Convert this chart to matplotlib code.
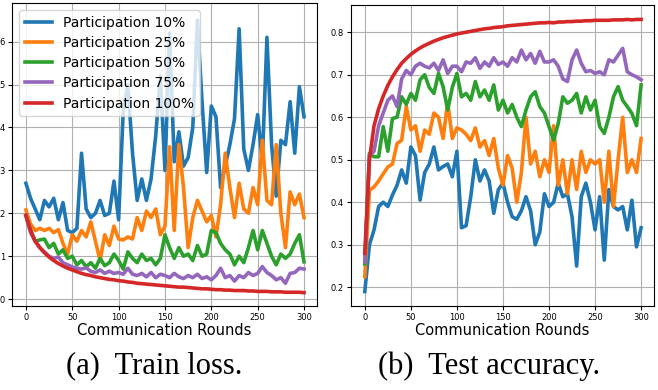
import numpy as np
import matplotlib
matplotlib.use("Agg")
import matplotlib.pyplot as plt

rounds = list(range(0, 301, 5))
labels = ["Participation 10%", "Participation 25%", "Participation 50%",
          "Participation 75%", "Participation 100%"]
colors = ["#1f77b4", "#ff7f0e", "#2ca02c", "#9467bd", "#d62728"]

loss_10 = [2.7, 2.35, 2.1, 1.85, 2.3, 2.15, 2.35, 1.85, 2.25, 1.6,
           1.55, 1.65, 3.4, 2.1, 1.9, 2.0, 2.3, 1.95, 2.0, 2.75,
           1.85, 4.4, 5.0, 3.4, 2.3, 2.8, 2.3, 2.8, 3.8, 5.2,
           3.0, 6.2, 3.2, 3.9, 3.1, 3.3, 4.0, 6.5, 4.6, 2.95,
           4.5, 4.25, 2.6, 3.1, 3.6, 4.2, 6.3, 3.5, 3.0, 3.6,
           4.3, 3.2, 6.1, 3.6, 2.4, 3.7, 3.6, 4.6, 3.4, 4.95,
           4.25]
loss_25 = [2.08, 1.75, 1.6, 1.65, 1.6, 1.65, 1.55, 1.62, 1.3, 1.05,
           1.5, 1.35, 1.6, 1.45, 1.8, 1.35, 0.9, 1.5, 1.25, 1.7,
           1.4, 1.38, 1.45, 1.4, 1.9, 1.6, 2.05, 1.9, 2.1, 1.5,
           1.7, 3.55, 1.6, 3.6, 2.6, 1.2, 1.9, 2.3, 2.05, 1.8,
           1.95, 1.45, 2.2, 3.4, 2.6, 1.9, 2.7, 2.1, 2.0, 2.6,
           2.2, 3.7, 2.3, 2.2, 3.6, 2.0, 1.2, 2.5, 2.2, 2.45,
           1.9]
loss_50 = [1.95, 1.6, 1.35, 1.38, 1.4, 1.2, 1.3, 1.05, 1.15, 0.95,
           1.0, 0.8, 0.9, 0.75, 0.85, 0.72, 0.95, 0.78, 0.85, 1.05,
           0.9, 0.7, 1.1, 0.95, 0.85, 1.05, 0.9, 0.95, 0.8, 0.95,
           1.5, 1.2, 0.95, 1.2, 1.0, 1.05, 0.9, 1.25, 1.0, 1.05,
           1.6, 1.55, 1.3, 1.15, 1.05, 0.8, 1.0, 0.85, 1.2, 1.6,
           1.15, 1.6, 1.3, 1.0, 0.8, 1.05, 0.95, 1.05, 1.3, 1.5,
           0.87]
loss_75 = [1.95, 1.55, 1.35, 1.2, 1.1, 1.0, 0.95, 0.98, 0.85, 0.8,
           0.75, 0.72, 0.7, 0.73, 0.65, 0.62, 0.68, 0.6, 0.65, 0.6,
           0.62, 0.58, 0.72, 0.58, 0.55, 0.6, 0.52, 0.62, 0.5, 0.58,
           0.55, 0.5, 0.6, 0.52, 0.48, 0.55, 0.5, 0.58, 0.48, 0.52,
           0.45, 0.55, 0.72, 0.5, 0.55, 0.42, 0.55, 0.5, 0.62, 0.55,
           0.6, 0.76, 0.62, 0.55, 0.45, 0.5, 0.37, 0.6, 0.62, 0.72,
           0.7]
loss_100 = [1.95, 1.6, 1.35, 1.2, 1.08, 0.98, 0.9, 0.83, 0.77, 0.72,
            0.68, 0.64, 0.6, 0.57, 0.55, 0.52, 0.5, 0.48, 0.46, 0.45,
            0.43, 0.42, 0.4, 0.39, 0.37, 0.36, 0.35, 0.34, 0.33, 0.32,
            0.31, 0.3, 0.29, 0.28, 0.28, 0.27, 0.26, 0.25, 0.24, 0.24,
            0.23, 0.22, 0.22, 0.21, 0.21, 0.2, 0.2, 0.2, 0.19, 0.19,
            0.18, 0.18, 0.18, 0.17, 0.17, 0.17, 0.16, 0.16, 0.16, 0.16,
            0.15]

acc_10 = [0.19, 0.3, 0.335, 0.39, 0.4, 0.39, 0.417, 0.44, 0.476, 0.445,
          0.53, 0.51, 0.405, 0.47, 0.49, 0.53, 0.476, 0.484, 0.49, 0.46,
          0.52, 0.34, 0.345, 0.413, 0.5, 0.45, 0.476, 0.45, 0.374, 0.43,
          0.445, 0.4, 0.366, 0.36, 0.38, 0.413, 0.38, 0.3, 0.33, 0.42,
          0.39, 0.4, 0.445, 0.413, 0.42, 0.366, 0.25, 0.413, 0.445, 0.4,
          0.335, 0.413, 0.264, 0.43, 0.39, 0.382, 0.39, 0.335, 0.405, 0.295,
          0.34]
acc_25 = [0.225, 0.428, 0.436, 0.45, 0.467, 0.483, 0.49, 0.538, 0.546, 0.625,
          0.57, 0.58, 0.52, 0.57, 0.56, 0.61, 0.6, 0.55, 0.635, 0.55,
          0.575, 0.57, 0.56, 0.545, 0.575, 0.53, 0.545, 0.51, 0.55, 0.48,
          0.44, 0.51, 0.48, 0.4, 0.47, 0.6, 0.49, 0.52, 0.46, 0.5,
          0.47, 0.58, 0.44, 0.5, 0.42, 0.5, 0.43, 0.52, 0.47, 0.5,
          0.49, 0.5, 0.4, 0.52, 0.39, 0.5, 0.6, 0.47, 0.5, 0.47,
          0.55]
acc_50 = [0.255, 0.515, 0.507, 0.507, 0.578, 0.52, 0.597, 0.6, 0.648, 0.63,
          0.656, 0.64, 0.688, 0.7, 0.67, 0.656, 0.703, 0.672, 0.617, 0.67,
          0.703, 0.648, 0.656, 0.64, 0.684, 0.648, 0.664, 0.64, 0.676, 0.617,
          0.64, 0.61, 0.63, 0.6, 0.578, 0.617, 0.648, 0.66, 0.625, 0.61,
          0.578, 0.546, 0.585, 0.648, 0.633, 0.64, 0.656, 0.61, 0.648, 0.617,
          0.64, 0.578, 0.562, 0.6, 0.648, 0.672, 0.64, 0.625, 0.609, 0.58,
          0.676]
acc_75 = [0.26, 0.51, 0.52, 0.58, 0.61, 0.64, 0.65, 0.625, 0.69, 0.71,
          0.70, 0.72, 0.727, 0.72, 0.716, 0.727, 0.71, 0.735, 0.703, 0.72,
          0.72, 0.707, 0.73, 0.727, 0.74, 0.715, 0.73, 0.72, 0.74, 0.724,
          0.73, 0.72, 0.74, 0.73, 0.758, 0.735, 0.75, 0.727, 0.755, 0.73,
          0.73, 0.735, 0.72, 0.69, 0.684, 0.735, 0.758, 0.727, 0.707, 0.71,
          0.703, 0.707, 0.7, 0.735, 0.73, 0.746, 0.762, 0.707, 0.7, 0.695,
          0.688]
acc_100 = [0.28, 0.5, 0.58, 0.62, 0.65, 0.675, 0.695, 0.712, 0.727, 0.738,
           0.748, 0.756, 0.763, 0.769, 0.774, 0.779, 0.783, 0.787, 0.79, 0.793,
           0.796, 0.798, 0.8, 0.802, 0.804, 0.806, 0.808, 0.809, 0.811, 0.812,
           0.813, 0.815, 0.816, 0.817, 0.818, 0.819, 0.82, 0.821, 0.822, 0.822,
           0.823, 0.822, 0.824, 0.824, 0.825, 0.825, 0.826, 0.826, 0.827, 0.827,
           0.828, 0.828, 0.828, 0.828, 0.829, 0.829, 0.829, 0.83, 0.829, 0.83,
           0.83]

loss_series = [loss_10, loss_25, loss_50, loss_75, loss_100]
acc_series = [acc_10, acc_25, acc_50, acc_75, acc_100]

W, H = 658, 390
fig = plt.figure(figsize=(W / 100, H / 100), dpi=100)
ax1 = fig.add_axes([12 / W, 1 - 306 / H, 305 / W, 303 / H])
ax2 = fig.add_axes([351 / W, 1 - 306 / H, 303 / W, 301 / H])

for ax, series in ((ax1, loss_series), (ax2, acc_series)):
    for s, c, lab in zip(series, colors, labels):
        ax.plot(rounds, s, color=c, lw=2.6, label=lab)
    ax.grid(True, color="#b0b0b0", lw=0.8)
    ax.set_xticks([0, 50, 100, 150, 200, 250, 300])
    ax.tick_params(labelsize=6, length=3, pad=2)
    ax.set_xlabel("Communication Rounds", fontsize=10.5, labelpad=1)
    ax.set_xlim(-15, 314)

ax1.set_ylim(-0.16, 6.9)
ax1.set_yticks([0, 1, 2, 3, 4, 5, 6])
ax2.set_ylim(0.156, 0.864)
ax2.set_yticks([0.2, 0.3, 0.4, 0.5, 0.6, 0.7, 0.8])

ax1.legend(loc="upper left", fontsize=10, handlelength=2.0,
           labelspacing=0.45, borderaxespad=0.5, framealpha=0.8)

fig.text(154 / W, 1 - 366 / H, "(a)  Train loss.", family="Liberation Serif",
         fontsize=22, ha="center", va="center")
fig.text(489 / W, 1 - 366 / H, "(b)  Test accuracy.", family="Liberation Serif",
         fontsize=22, ha="center", va="center")

fig.savefig("out.png", dpi=100)
